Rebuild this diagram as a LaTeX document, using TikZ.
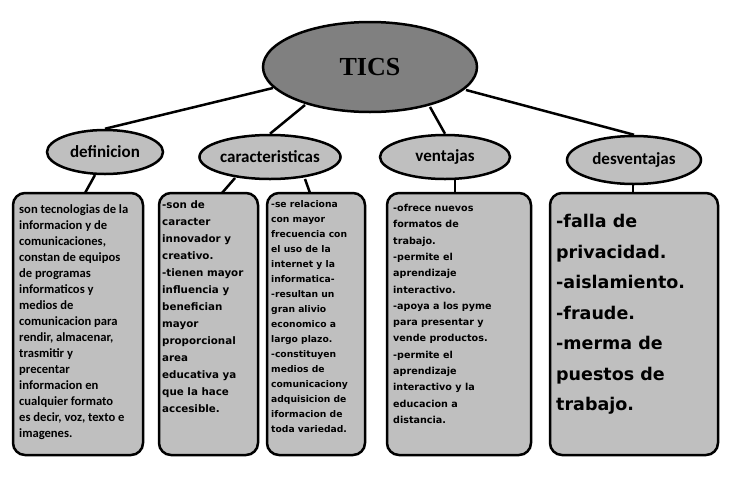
\documentclass[tikz,border=0pt]{standalone}
\usepackage{fontspec}
\setmainfont{DejaVu Sans}
\newfontfamily\calfont{Carlito}
\newfontfamily\serfont{Liberation Serif}
\usetikzlibrary{shapes.geometric}
\begin{document}
\begin{tikzpicture}[x=1pt,y=-1pt,
  ell/.style={draw,line width=2.5pt,ellipse,fill=black!25,inner sep=0pt},
  card/.style={draw,line width=2.5pt,fill=black!25,rounded corners=12pt},
  link/.style={line width=2.5pt}]
\useasboundingbox (0,0) rectangle (737,480);
\node[ell,fill=black!50,minimum width=214,minimum height=90] (tics) at (370,67) {\serfont\bfseries\fontsize{26}{26}\selectfont TICS};
\node[ell,minimum width=116,minimum height=44] (def) at (105,152) {\calfont\bfseries\fontsize{17}{17}\selectfont definicion};
\node[ell,minimum width=130,minimum height=44] (car) at (270,157) {\calfont\bfseries\fontsize{17}{17}\selectfont caracteristicas};
\node[ell,minimum width=130,minimum height=44] (ven) at (445,157) {\calfont\bfseries\fontsize{17}{17}\selectfont ventajas};
\node[ell,minimum width=134,minimum height=48] (des) at (634,160) {\calfont\bfseries\fontsize{17}{17}\selectfont desventajas};
\coordinate (t1) at (273,88); \coordinate (t2) at (305,105);
\coordinate (t3) at (430,107); \coordinate (t4) at (466,90);
\draw[link] (t1) -- (def.north); \draw[link] (t2) -- (car.north);
\draw[link] (t3) -- (ven.north); \draw[link] (t4) -- (des.north);
\draw[card] (13,193) rectangle (143,455); \node (b1) at (78,324) {};
\draw[card] (159,193) rectangle (258,455); \node (b2) at (208,324) {};
\draw[card] (267,193) rectangle (365,455); \node (b3) at (316,324) {};
\draw[card] (387,193) rectangle (531,455); \node (b4) at (459,324) {};
\draw[card] (550,193) rectangle (718,455); \node (b5) at (634,324) {};
\coordinate (e1) at (95,175); \coordinate (f1) at (85,193);
\coordinate (e2) at (235,178); \coordinate (f2) at (222,193);
\coordinate (e3) at (305,179); \coordinate (f3) at (310,193);
\coordinate (e4) at (455,179); \coordinate (f4) at (455,193);
\coordinate (e5) at (633,184); \coordinate (f5) at (633,193);
\foreach \i in {1,...,5} \draw[link] (e\i) -- (f\i);
\node[anchor=north west,align=left,inner sep=0pt,font=\calfont\bfseries\fontsize{12.6}{16}\selectfont] (x1) at (19,204) {son tecnologias de la\\informacion y de\\comunicaciones,\\constan de equipos\\de programas\\informaticos y\\medios de\\comunicacion para\\rendir, almacenar,\\trasmitir y\\precentar\\informacion en\\cualquier formato\\es decir, voz, texto e\\imagenes.};
\node[anchor=north west,align=left,inner sep=0pt,font=\bfseries\fontsize{10.3}{17}\selectfont] (x2) at (162,200) {-son de\\caracter\\innovador y\\creativo.\\-tienen mayor\\influencia y\\benefician\\mayor\\proporcional\\area\\educativa ya\\que la hace\\accesible.};
\node[anchor=north west,align=left,inner sep=0pt,font=\bfseries\fontsize{9.2}{15}\selectfont] (x3) at (271,200) {-se relaciona\\con mayor\\frecuencia con\\el uso de la\\internet y la\\informatica-\\-resultan un\\gran alivio\\economico a\\largo plazo.\\-constituyen\\medios de\\comunicaciony\\adquisicion de\\iformacion de\\toda variedad.};
\node[anchor=north west,align=left,inner sep=0pt,font=\bfseries\fontsize{9.6}{16.3}\selectfont] (x4) at (393,204) {-ofrece nuevos\\formatos de\\trabajo.\\-permite el\\aprendizaje\\interactivo.\\-apoya a los pyme\\para presentar y\\vende productos.\\-permite el\\aprendizaje\\interactivo y la\\educacion a\\distancia.};
\node[anchor=north west,align=left,inner sep=0pt,font=\bfseries\fontsize{17.5}{30.5}\selectfont] (x5) at (556,214) {-falla de\\privacidad.\\-aislamiento.\\-fraude.\\-merma de\\puestos de\\trabajo.};
\end{tikzpicture}
\end{document}
